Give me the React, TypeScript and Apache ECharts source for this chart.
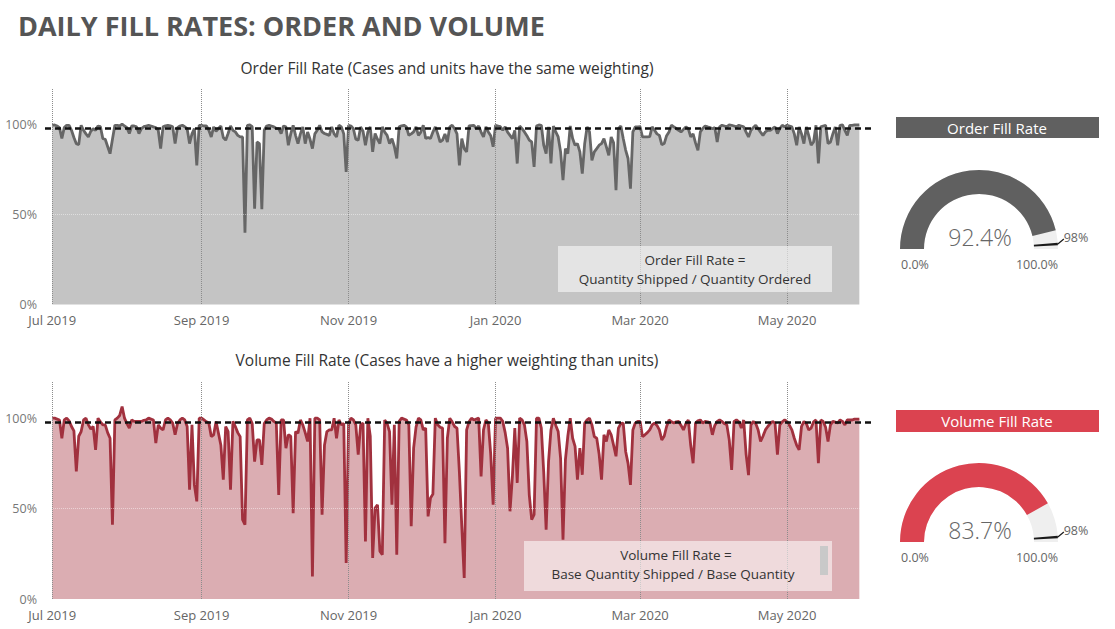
import React, { useEffect, useRef } from "react";
import * as echarts from "echarts";

// ---------- data ----------
const START_UTC = Date.UTC(2019, 6, 1); // first day of data (Jul 1 2019)
const DAY_MS = 86400000;
const AXIS_MIN = Date.UTC(2019, 5, 28);
const AXIS_MAX = Date.UTC(2020, 5, 5, 16);
const MONTHS = ["Jan", "Feb", "Mar", "Apr", "May", "Jun", "Jul", "Aug", "Sep", "Oct", "Nov", "Dec"];

const yTickLabels = [0, 50, 100];
const TARGET = 98;
const ORDER_KPI = 92.4;
const VOLUME_KPI = 83.7;

// Order fill rate (%), daily
const orderJulAug = [
  99.8, 100, 99.4, 98.5, 92.4, 98.5, 99.8, 99.8, 97, 93,
  89.5, 89, 99.8, 97, 95, 93.3, 96.5, 97.9, 97, 99.4,
  99, 92.4, 92, 88, 84, 92, 99.8, 99.8, 99.5, 100.5,
  99.4, 98.5, 95.2, 99.4, 99.4, 98.9, 95.2, 97.9, 99, 99.4,
  99.8, 99.4, 98.9, 98.5, 97, 86.8, 98.9, 99.5, 99.8, 99.5,
  98.9, 89.6, 98.5, 99.4, 99.8, 99, 97.9, 89.6, 95, 97.9,
  77.5, 99.8,
];
const orderSepOct = [
  99.8, 99.4, 99.4, 97, 93.3, 98.9, 96.5, 98, 99.4, 93,
  91.5, 95.2, 99.4, 97, 96.1, 94.2, 93.3, 93.3, 40, 99.8,
  100, 99, 53.4, 90.5, 89.6, 53, 97, 99.4, 99.8, 99.4,
  98.9, 98, 97.9, 95.2, 99.4, 98.9, 88.7, 95, 99.8, 94.2,
  89.6, 95, 98.9, 89.6, 96.1, 92, 86.8, 95, 97, 99.8,
  96.1, 95.2, 94.7, 94.2, 98.9, 95, 93.3, 99.8, 98.9, 95,
  73.8,
];
const orderNovDec = [
  99.8, 99.4, 97.9, 92, 91.5, 98.9, 96.5, 88.7, 96, 98.9,
  85, 95.2, 92, 89.6, 98.9, 96, 94.2, 89.6, 92.4, 88,
  81.3, 98.9, 99.5, 99.8, 98.9, 94.2, 95, 96.1, 98.9, 94.2,
  96, 99.8, 92.4, 93, 92.4, 96, 98.9, 95, 90.5, 91.5,
  95, 90.5, 98.9, 99.8, 97.9, 95, 77.5, 92.4, 86.8, 85,
  99.4, 99.6, 99.8, 97.9, 99.4, 96, 93.3, 98.9, 96.1, 94,
  87.8,
];
const orderJanFeb = [
  99.8, 99.4, 99, 97, 98.9, 96, 94.2, 92.4, 97, 78.5,
  99.4, 97.9, 96.1, 94, 91.5, 90.5, 76.6, 99.4, 100, 99.8,
  88.7, 84, 98.9, 78.5, 99.4, 96.1, 93.3, 85, 69.2, 86.8,
  84, 99.4, 92.4, 88.7, 89.6, 85, 72.9, 89.6, 98.9, 96.1,
  80.3, 85, 86.8, 88.7, 89.6, 92.4, 87.8, 83.1, 93.3, 90,
  63.6, 97.9, 99.4, 92.4, 86, 81.3, 64.5, 96.1, 98.9, 98.9,
];
const orderMarApr = [
  99, 93.3, 93.3, 93.3, 93.5, 98.9, 97, 95, 94.2, 89,
  89.6, 94, 96.1, 99.8, 98.9, 98, 97, 96.1, 97.5, 98.9,
  97.9, 93.3, 95, 90, 85.9, 96.1, 98, 99.4, 98.9, 98.5,
  97.9, 98.5, 90.5, 98.9, 99.8, 99.4, 98.9, 100, 99.8, 99.4,
  98.9, 99.8, 99.4, 98.9, 96, 93.3, 97, 98.5, 99.8, 97.9,
  96, 94.2, 96.1, 97, 97, 98, 98.9, 95.2, 98, 99.8,
  98.9,
];
const orderMay = [
  99.8, 99.4, 98.9, 95, 88.7, 98.9, 95, 89.6, 98.9, 94,
  88.7, 90.5, 99.8, 78.5, 98.9, 99.4, 99.8, 89.6, 90.5, 95,
  98.9, 88.7, 99.8, 100, 97, 94.2, 99.8, 99.8, 100, 100,
  100,
];

// Volume fill rate (%), daily
const volumeJulAug = [
  100, 100, 99.5, 99, 88.9, 99, 100, 98.5, 95.4, 93,
  70.5, 90, 92.6, 99, 100, 96.3, 94, 95.4, 82.5, 100,
  98, 96.3, 96.3, 92, 88.9, 41.1, 99, 100, 101.5, 106.4,
  100, 97, 94.5, 99, 98.2, 98.2, 98.2, 98.2, 98.8, 99,
  100, 99.5, 99, 86.2, 96.3, 94.5, 93.5, 99, 100, 99,
  97.3, 90.8, 97, 99, 100, 99, 95.4, 60.4, 96.3, 63.1,
  54, 100,
];
const volumeSepOct = [
  100, 99, 98, 97.3, 89.8, 90.8, 98.2, 91.7, 85, 66,
  95.4, 92.6, 60.4, 98.2, 95.4, 92, 89.8, 43.9, 41.1, 99,
  100, 97, 76, 88, 88, 74.2, 97, 99, 100, 99.5,
  98.2, 97.3, 57.6, 99, 99, 83.4, 90.8, 90, 47.5, 92.6,
  91.7, 99, 96.3, 92, 87.1, 100, 12.5, 100, 100, 99,
  46.6, 85, 92.6, 93.5, 93.5, 100, 88.9, 99, 96.3, 97,
  19.9,
];
const volumeNovDec = [
  97.3, 100, 99, 96.3, 79.8, 96.3, 97.3, 31.8, 100, 90,
  22.7, 50.3, 52.1, 26.4, 24.5, 99, 97, 92.6, 52.1, 96.3,
  24.5, 98.2, 100, 99.5, 99, 96.3, 40.2, 83.4, 95, 100,
  99, 93.5, 94.5, 45.7, 55.8, 58, 100, 96.3, 95, 94.5,
  30.9, 88.9, 100, 98, 95.4, 94.5, 70, 40, 11.6, 93.5,
  98, 100, 99, 99.5, 100, 67.8, 93.5, 99, 97.3, 80,
  52.1,
];
const volumeJanFeb = [
  100, 100, 100, 98.2, 92, 83.4, 48.5, 67.8, 94.5, 64.2,
  100, 99, 96.3, 87.1, 57.6, 43.9, 46.6, 100, 100, 94.5,
  70, 38.3, 76, 93.5, 100, 96, 92.6, 77.7, 32.8, 76.9,
  90, 100, 88.9, 84.4, 66, 83.4, 68.7, 97.3, 99, 100,
  96.3, 89.8, 88.9, 80, 66, 90.8, 87.1, 93.5, 90.8, 85,
  78.9, 94.5, 97, 97.3, 81.6, 75, 63.1, 93.5, 97.3, 98.2,
];
const volumeMarApr = [
  98.2, 89.8, 90.8, 92, 93.5, 96.3, 97.3, 96, 93.5, 88,
  90, 95.4, 99, 98, 97.3, 98, 98.2, 96, 93.5, 97,
  99, 85, 75.1, 97.3, 98.5, 99, 97.3, 98.2, 98, 97.3,
  90.8, 96, 98.2, 99, 98.2, 97, 96.3, 88, 71.4, 98.2,
  99, 98, 94.5, 99, 80, 68.5, 96.3, 98.2, 97, 93.5,
  87.1, 90, 93.5, 95.4, 97, 98.2, 97.3, 79.8, 96.3, 98,
  99,
];
const volumeMay = [
  98.2, 96, 93.5, 88.9, 85, 82.5, 95.4, 98.2, 97, 93.5,
  94.5, 98, 99, 75.1, 99, 98.2, 95, 87.1, 96.3, 98.2,
  97.8, 97.3, 99, 98.2, 96.3, 99, 99, 99, 99.5, 99.5,
  99.5,
];

const orderFillRate = [...orderJulAug, ...orderSepOct, ...orderNovDec, ...orderJanFeb, ...orderMarApr, ...orderMay];
const volumeFillRate = [...volumeJulAug, ...volumeSepOct, ...volumeNovDec, ...volumeJanFeb, ...volumeMarApr, ...volumeMay];

const toDaily = (vals: number[]) => vals.map((v, i) => [START_UTC + i * DAY_MS, v]);

// ---------- styling ----------
const FONT = '"Segoe UI", "Open Sans", "Noto Sans", sans-serif';
const GREY_LINE = "#666666";
const GREY_AREA = "#c4c4c4";
const RED_LINE = "#a1313e";
const RED_AREA = "#dbadb2";
const GAUGE_GREY = "#606060";
const GAUGE_RED = "#db4350";
const GAUGE_REST = "#efefef";

const gaugeR = 79;
const gaugeW = 24;
const gaugeX = 979;
const orderGaugeY = 249;
const volumeGaugeY = 542;

function makeXAxis(gridIndex: number) {
  return {
    type: "time",
    gridIndex,
    min: AXIS_MIN,
    max: AXIS_MAX,
    minInterval: 61 * DAY_MS,
    maxInterval: 61 * DAY_MS,
    z: 3,
    axisLine: { show: false },
    axisTick: { show: false },
    splitLine: {
      show: true,
      showMinLine: false,
      showMaxLine: false,
      lineStyle: { type: "dotted", color: "#8c8c8c", width: 1 },
    },
    axisLabel: {
      showMinLabel: false,
      showMaxLabel: false,
      color: "#666",
      fontSize: 13,
      fontFamily: FONT,
      margin: 9,
      formatter: (v: number) => {
        const d = new Date(v);
        return `${MONTHS[d.getUTCMonth()]} ${d.getUTCFullYear()}`;
      },
    },
  };
}

function makeYAxis(gridIndex: number) {
  return {
    type: "value",
    gridIndex,
    min: 0,
    max: 120,
    interval: 50,
    axisLine: { show: false },
    axisTick: { show: false },
    splitLine: { show: false },
    axisLabel: {
      color: "#777",
      fontSize: 12.5,
      fontFamily: FONT,
      margin: 8,
      formatter: (v: number) => (yTickLabels.includes(v) ? `${v}%` : ""),
    },
  };
}

function lineSeries(values: number[], idx: number, line: string, area: string) {
  return {
    type: "line",
    xAxisIndex: idx,
    yAxisIndex: idx,
    data: toDaily(values),
    showSymbol: false,
    symbol: "none",
    lineStyle: { color: line, width: 2.8 },
    itemStyle: { color: line },
    areaStyle: { color: area, opacity: 1 },
    z: 2,
    markLine: {
      silent: true,
      symbol: "none",
      label: { show: false },
      data: [
        { yAxis: TARGET, lineStyle: { type: [6, 4], color: "#111", width: 2.5 } },
        { yAxis: 50, lineStyle: { type: "dotted", color: "rgba(255,255,255,0.45)", width: 1 } },
      ],
    },
  };
}

function gaugeMain(value: number, cy: number, color: string) {
  return {
    type: "gauge",
    center: [gaugeX, cy],
    radius: gaugeR,
    startAngle: 180,
    endAngle: 0,
    min: 0,
    max: 100,
    splitNumber: 1,
    axisLine: { show: true, lineStyle: { width: gaugeW, color: [[1, GAUGE_REST]] } },
    progress: { show: true, width: gaugeW, itemStyle: { color } },
    pointer: { show: false },
    anchor: { show: false },
    axisTick: { show: false },
    splitLine: { show: false },
    axisLabel: { show: false },
    title: { show: false },
    detail: {
      show: true,
      offsetCenter: [1, -12],
      formatter: (v: number) => `${v.toFixed(1)}%`,
      fontSize: 23,
      fontWeight: 300,
      fontFamily: FONT,
      color: "#666",
    },
    data: [{ value }],
  };
}

function gaugeTarget(cy: number) {
  const t = TARGET / 100;
  return {
    type: "gauge",
    center: [gaugeX, cy],
    radius: gaugeR,
    startAngle: 180,
    endAngle: 0,
    min: 0,
    max: 100,
    splitNumber: 1,
    z: 4,
    axisLine: {
      show: true,
      lineStyle: {
        width: gaugeW,
        color: [
          [t - 0.005, "rgba(0,0,0,0)"],
          [t + 0.005, "#1a1a1a"],
          [1, "rgba(0,0,0,0)"],
        ],
      },
    },
    progress: { show: false },
    pointer: { show: false },
    anchor: { show: false },
    axisTick: { show: false },
    splitLine: { show: false },
    axisLabel: { show: false },
    detail: { show: false },
    title: { show: true, fontSize: 12.5, color: "#666", fontFamily: FONT },
    data: [
      { value: TARGET, name: `${TARGET}%`, title: { offsetCenter: [97, -12] } },
      { value: 0, name: "0.0%", title: { offsetCenter: [-64, 15] } },
      { value: 100, name: "100.0%", title: { offsetCenter: [58, 15] } },
    ],
  };
}

function leader(cy: number) {
  const a = Math.PI * (1 - TARGET / 100);
  const x0 = gaugeX + gaugeR * Math.cos(a);
  const y0 = cy - gaugeR * Math.sin(a);
  return {
    type: "polyline",
    z: 20,
    shape: { points: [[x0, y0], [x0 + 6, y0 - 5]] },
    style: { stroke: "#1a1a1a", lineWidth: 1.2, fill: null },
  };
}

function txt(text: string, x: number, y: number, size: number, color: string, align = "center", weight: any = "normal") {
  return {
    type: "text",
    x,
    y,
    z: 20,
    style: {
      text,
      fill: color,
      fontSize: size,
      fontFamily: FONT,
      fontWeight: weight,
      align,
      textAlign: align,
      verticalAlign: "middle",
      textVerticalAlign: "middle",
    },
  };
}

function rect(x: number, y: number, w: number, h: number, fill: string) {
  return { type: "rect", z: 15, shape: { x, y, width: w, height: h }, style: { fill } };
}

const option = {
  animation: false,
  useUTC: true,
  backgroundColor: "#ffffff",
  grid: [
    { left: 45, right: 242, top: 89, bottom: 324.5, containLabel: false },
    { left: 45, right: 242, top: 382, bottom: 30, containLabel: false },
  ],
  xAxis: [makeXAxis(0), makeXAxis(1)],
  yAxis: [makeYAxis(0), makeYAxis(1)],
  series: [
    lineSeries(orderFillRate, 0, GREY_LINE, GREY_AREA),
    lineSeries(volumeFillRate, 1, RED_LINE, RED_AREA),
    gaugeMain(ORDER_KPI, orderGaugeY, GAUGE_GREY),
    gaugeTarget(orderGaugeY),
    gaugeMain(VOLUME_KPI, volumeGaugeY, GAUGE_RED),
    gaugeTarget(volumeGaugeY),
  ],
  graphic: [
    txt("DAILY FILL RATES: ORDER AND VOLUME", 18, 25, 27, "#555", "left", "bold"),
    txt("Order Fill Rate (Cases and units have the same weighting)", 447, 68, 15.5, "#333"),
    txt("Volume Fill Rate (Cases have a higher weighting than units)", 447, 360, 15.5, "#333"),
    rect(558, 246, 274, 46, "rgba(255,255,255,0.55)"),
    txt("Order Fill Rate =", 695, 260, 13.5, "#333"),
    txt("Quantity Shipped / Quantity Ordered", 695, 279, 13.5, "#333"),
    rect(524, 541, 308, 50, "rgba(255,255,255,0.55)"),
    rect(820, 546, 8, 29, "#c9c9c9"),
    txt("Volume Fill Rate =", 676, 555, 13.5, "#333"),
    txt("Base Quantity Shipped / Base Quantity", 673, 574, 13.5, "#333"),
    rect(896, 117, 203, 21, GAUGE_GREY),
    txt("Order Fill Rate", 997, 128, 15, "#fff"),
    rect(896, 410, 203, 22, GAUGE_RED),
    txt("Volume Fill Rate", 997, 421, 15, "#fff"),
    leader(orderGaugeY),
    leader(volumeGaugeY),
  ],
};

export default function App() {
  const ref = useRef<HTMLDivElement>(null);
  useEffect(() => {
    if (!ref.current) return;
    const chart = echarts.init(ref.current, null, { renderer: "svg" });
    chart.setOption(option as any);
    return () => chart.dispose();
  }, []);
  return (
    <div
      ref={ref}
      style={{ position: "absolute", left: 0, top: 0, width: 1115, height: 629, background: "#fff" }}
    />
  );
}
